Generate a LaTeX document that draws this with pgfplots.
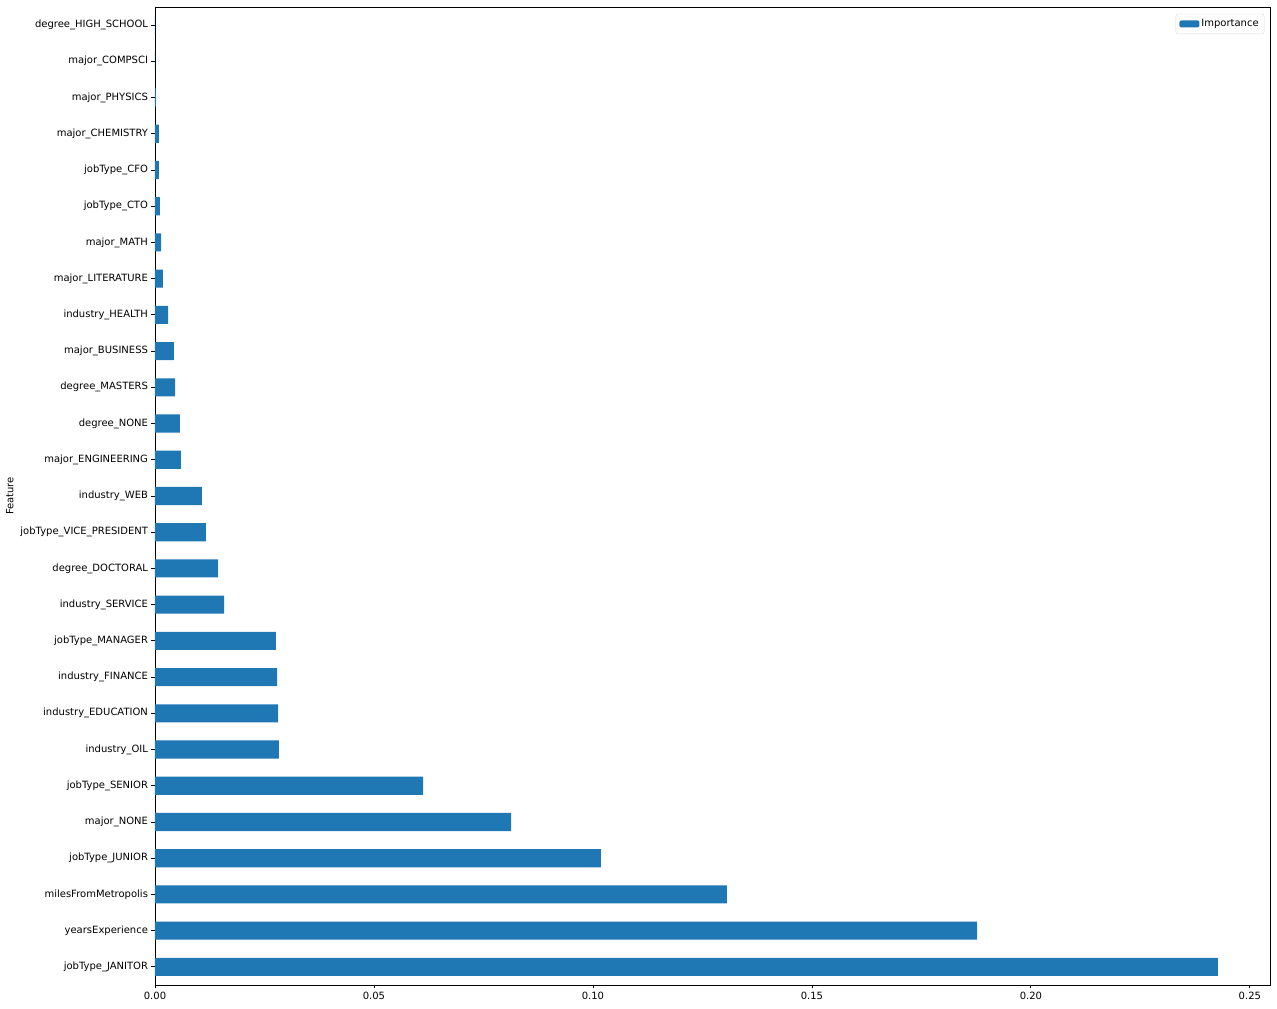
\documentclass[border=0pt]{standalone}
\usepackage{fontspec}
\setmainfont{DejaVu Sans}
\usepackage{pgfplots}
\pgfplotsset{compat=1.18}
\definecolor{mplblue}{HTML}{1F77B4}
\begin{document}
\fontsize{10}{12}\selectfont
\begin{tikzpicture}
\begin{axis}[
  scale only axis,
  width=1115pt, height=978pt,
  xbar, bar width=0.5,
  xmin=0, xmax=0.2546,
  ymin=-0.5, ymax=26.5,
  ytick={0,...,26},
  yticklabels={jobType\_JANITOR,yearsExperience,milesFromMetropolis,jobType\_JUNIOR,major\_NONE,jobType\_SENIOR,industry\_OIL,industry\_EDUCATION,industry\_FINANCE,jobType\_MANAGER,industry\_SERVICE,degree\_DOCTORAL,jobType\_VICE\_PRESIDENT,industry\_WEB,major\_ENGINEERING,degree\_NONE,degree\_MASTERS,major\_BUSINESS,industry\_HEALTH,major\_LITERATURE,major\_MATH,jobType\_CTO,jobType\_CFO,major\_CHEMISTRY,major\_PHYSICS,major\_COMPSCI,degree\_HIGH\_SCHOOL},
  xtick={0,0.05,0.10,0.15,0.20,0.25},
  xticklabel style={/pgf/number format/.cd,fixed,fixed zerofill,precision=2},
  /pgf/number format/assume math mode=true,
  tick align=outside,
  tick pos=left,
  major tick length=3.5pt,
  tick style={black, line width=0.8pt},
  axis line style={line width=0.8pt},
  ylabel={Feature},
  ylabel style={at={(ticklabel cs:0.5)}, anchor=south},
  ylabel shift=0pt,
  every tick label/.append style={font=\fontsize{10}{12}\selectfont},
  legend style={at={(0.995,0.993)}, anchor=north east, draw=black!15, rounded corners=2pt, font=\fontsize{10}{12}\selectfont, inner sep=3.5pt},
  legend image code/.code={\fill[mplblue] (0pt,-3.5pt) rectangle (20pt,3.5pt);},
  clip=false,
]
\addplot[fill=mplblue, draw=none] coordinates {
(0.2427,0) (0.1877,1) (0.1306,2) (0.1018,3) (0.0813,4) (0.0612,5)
(0.0283,6) (0.0281,7) (0.0279,8) (0.0276,9) (0.0158,10) (0.0144,11)
(0.0116,12) (0.0107,13) (0.0059,14) (0.0057,15) (0.0046,16) (0.0043,17)
(0.0030,18) (0.0018,19) (0.0014,20) (0.0011,21) (0.0009,22) (0.0009,23)
(0.0002,24) (0.00005,25) (0.00003,26)
};
\addlegendentry{Importance}
\end{axis}
\pgfresetboundingbox
\path (-155pt,-24pt) rectangle (1122pt,985pt);
\end{tikzpicture}
\end{document}
